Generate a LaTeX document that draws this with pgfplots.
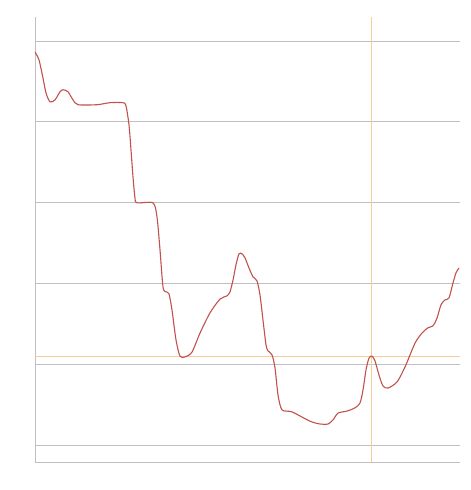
\documentclass[border=0pt]{standalone}
\usepackage{pgfplots}
\pgfplotsset{compat=1.18}
\definecolor{curvered}{RGB}{194,80,76}
\definecolor{crossorange}{RGB}{248,204,150}
\definecolor{gridc}{RGB}{192,192,192}
\begin{document}
\begin{tikzpicture}
\useasboundingbox (-35pt,-28pt) rectangle (436pt,462pt);
\begin{axis}[
  at={(0,0)}, anchor=south west,
  scale only axis, width=425pt, height=445pt,
  xmin=0, xmax=425, ymin=-4.2, ymax=105.9,
  axis x line=bottom, axis y line=left,
  axis line style={gridc, -},
  ytick={0,20,40,60,80,100}, xtick=\empty,
  yticklabels={}, major tick length=0pt,
  ymajorgrids, grid style={gridc, line width=0.6pt},
  clip=false,
]
\addplot[draw=crossorange, line width=0.8pt] coordinates {(0,22) (425,22)};
\draw[crossorange, line width=0.9pt] (axis cs:336.5,-4.2) -- (axis cs:336.5,105.9);
\addplot[color=curvered, line width=1.1pt, smooth, tension=0.45] coordinates {
(0,97.3) (1,96.8) (4,95.3) (8,90.8) (11,87.1) (15,84.9) (20,85.4) (25,87.4) (28,87.9)
(33,87.4) (38,85.4) (43,84.2) (62,84.2) (75,84.7) (88,84.7) (91,83.9) (94,79.2)
(96,73.0) (98,66.3) (100,61.1) (102,59.9) (118,59.9) (122,56.4) (125,48.3) (128,39.1)
(131,37.9) (134,37.4) (137,33.4) (141,26.0) (145,22.0) (150,21.8) (157,23.0) (165,27.7)
(175,32.7) (185,36.1) (192,36.9) (195,37.9) (198,40.8) (201,44.6) (204,47.3) (207,47.3)
(210,46.3) (214,43.8) (218,41.6) (222,40.6) (225,37.1) (228,30.9) (231,24.8) (233,23.3)
(237,22.3) (240,19.1) (243,12.4) (247,8.7) (257,8.2) (275,5.9) (285,5.2) (293,5.2)
(298,6.2) (303,7.9) (312,8.4) (320,9.2) (325,10.4) (328,13.6) (331,18.6) (334,21.5)
(337,22.0) (340,20.8) (344,17.3) (348,14.6) (353,14.1) (362,15.6) (370,19.3) (380,25.2)
(387,27.7) (393,29.0) (398,29.5) (402,31.4) (406,34.7) (410,35.9) (414,36.4) (418,40.1)
(421,42.6) (424,43.8)
};
\end{axis}
\end{tikzpicture}
\end{document}
